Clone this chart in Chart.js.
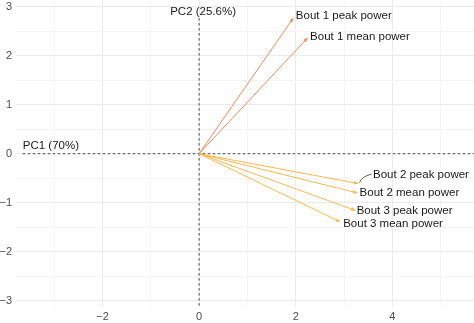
<!DOCTYPE html>
<html>
<head>
<meta charset="utf-8">
<script src="https://cdn.jsdelivr.net/npm/chart.js@4"></script>
<style>
  html, body { margin: 0; padding: 0; background: #fff; }
  #wrap { width: 474px; height: 323px; }
</style>
</head>
<body>
<div id="wrap"><canvas id="biplot"></canvas></div>
<script>
// PCA biplot — variable loadings drawn as arrows from the origin

const variables = ['Bout 1 peak power', 'Bout 1 mean power', 'Bout 2 peak power', 'Bout 2 mean power', 'Bout 3 peak power', 'Bout 3 mean power'];
const pc1 = [1.95, 2.25, 3.30, 3.28, 3.24, 2.92];
const pc2 = [2.77, 2.37, -0.61, -0.80, -1.16, -1.39];

const xTicks = [-3, -2, -1, 0, 1, 2, 3, 4, 5];
const xLabelled = [-2, 0, 2, 4];
const yTicks = [-3, -2.5, -2, -1.5, -1, -0.5, 0, 0.5, 1, 1.5, 2, 2.5, 3];
const yLabelled = [-3, -2, -1, 0, 1, 2, 3];

const pc1Title = 'PC1 (70%)';
const pc2Title = 'PC2 (25.6%)';

const ARROW_COLORS = ['#ea8b5c', '#ea8b5c', '#f5b94f', '#f5b94f', '#f5b94f', '#f5b94f'];
const TEXT = '#1a1a1a';
const TICK_TEXT = '#4d4d4d';
const GRID_MAJOR = '#ebebeb';
const GRID_MINOR = '#f4f4f4';
const FONT = "'Liberation Sans', Arial, sans-serif";

function fmtTick(v) {
  return v < 0 ? '\u2212' + Math.abs(v) : String(v);
}

// label placement in px relative to the arrow tip (ggrepel-ish)
const LABEL_NUDGE = [
  { dx: 2.5, dy: -2 },
  { dx: 2.3, dy: -0.7 },
  { dx: 14.5, dy: -9, link: true },
  { dx: 2, dy: 0 },
  { dx: 1, dy: 0.4 },
  { dx: 3, dy: 1.8 },
];

const biplotPlugin = {
  id: 'biplot',
  beforeDatasetsDraw(chart) {
    const { ctx, scales: { x, y }, chartArea } = chart;
    const x0 = x.getPixelForValue(0);
    const y0 = y.getPixelForValue(0);
    ctx.save();
    ctx.strokeStyle = '#444';
    ctx.lineWidth = 1;
    ctx.setLineDash([2.5, 2.5]);
    ctx.beginPath();
    ctx.moveTo(x.getPixelForValue(-3.65), y0);
    ctx.lineTo(chartArea.right, y0);
    ctx.moveTo(x0, y.getPixelForValue(Math.max(...pc2)));
    ctx.lineTo(x0, chartArea.bottom);
    ctx.stroke();
    ctx.setLineDash([]);

    ctx.fillStyle = TEXT;
    ctx.font = `11.5px ${FONT}`;
    ctx.textBaseline = 'middle';
    ctx.textAlign = 'left';
    ctx.fillText(pc1Title, x.getPixelForValue(-3.65), y0 - 8);
    ctx.textAlign = 'center';
    ctx.fillText(pc2Title, x0 + 4, 12);
    ctx.restore();
  },
  afterDatasetsDraw(chart) {
    const { ctx } = chart;
    ctx.save();
    chart.data.datasets.forEach((ds, i) => {
      const pts = chart.getDatasetMeta(i).data;
      const a = pts[0], b = pts[1];
      const ang = Math.atan2(b.y - a.y, b.x - a.x);
      const len = 4.5, half = 1.8;
      ctx.fillStyle = ds.borderColor;
      ctx.beginPath();
      ctx.moveTo(b.x, b.y);
      ctx.lineTo(b.x - len * Math.cos(ang) + half * Math.sin(ang), b.y - len * Math.sin(ang) - half * Math.cos(ang));
      ctx.lineTo(b.x - len * Math.cos(ang) - half * Math.sin(ang), b.y - len * Math.sin(ang) + half * Math.cos(ang));
      ctx.closePath();
      ctx.fill();

      const n = LABEL_NUDGE[i];
      if (n.link) {
        ctx.strokeStyle = '#333';
        ctx.lineWidth = 0.8;
        ctx.beginPath();
        ctx.moveTo(b.x + 1, b.y - 1);
        ctx.quadraticCurveTo(b.x + 3, b.y - 7, b.x + n.dx - 1.5, b.y + n.dy - 0.5);
        ctx.stroke();
      }
      ctx.fillStyle = TEXT;
      ctx.font = `11.5px ${FONT}`;
      ctx.textAlign = 'left';
      ctx.textBaseline = 'middle';
      ctx.fillText(variables[i], b.x + n.dx, b.y + n.dy);
    });
    ctx.restore();
  },
};

const datasets = variables.map((name, i) => ({
  label: name,
  data: [{ x: 0, y: 0 }, { x: pc1[i], y: pc2[i] }],
  showLine: true,
  borderColor: ARROW_COLORS[i],
  borderWidth: 1,
  pointRadius: 0,
  pointHoverRadius: 0,
}));

new Chart(document.getElementById('biplot'), {
  type: 'scatter',
  data: { datasets },
  plugins: [biplotPlugin],
  options: {
    responsive: true,
    maintainAspectRatio: false,
    animation: false,
    events: [],
    layout: { padding: 0 },
    plugins: { legend: { display: false }, tooltip: { enabled: false } },
    scales: {
      x: {
        type: 'linear',
        min: -3.79,
        max: 5.69,
        afterBuildTicks: (s) => { s.ticks = xTicks.map((v) => ({ value: v })); },
        afterFit: (s) => {
          s.height = 16;
          s.paddingLeft = 0;
          s.paddingRight = 0;
        },
        border: { display: false },
        grid: {
          drawTicks: false,
          color: (c) => (xLabelled.includes(c.tick.value) ? GRID_MAJOR : GRID_MINOR),
        },
        ticks: {
          padding: 3,
          color: TICK_TEXT,
          font: { family: FONT, size: 11 },
          autoSkip: false,
          maxRotation: 0,
          callback: (v) => (xLabelled.includes(v) ? fmtTick(v) : ''),
        },
      },
      y: {
        type: 'linear',
        min: -3.13,
        max: 3.14,
        afterBuildTicks: (s) => { s.ticks = yTicks.map((v) => ({ value: v })); },
        afterFit: (s) => {
          s.width = 16;
          s.paddingTop = 0;
          s.paddingBottom = 0;
        },
        border: { display: false },
        grid: {
          drawTicks: false,
          color: (c) => (yLabelled.includes(c.tick.value) ? GRID_MAJOR : GRID_MINOR),
        },
        ticks: {
          padding: 4,
          color: TICK_TEXT,
          font: { family: FONT, size: 11 },
          autoSkip: false,
          callback: (v) => (yLabelled.includes(v) ? fmtTick(v) : ''),
        },
      },
    },
  },
});
</script>
</body>
</html>
